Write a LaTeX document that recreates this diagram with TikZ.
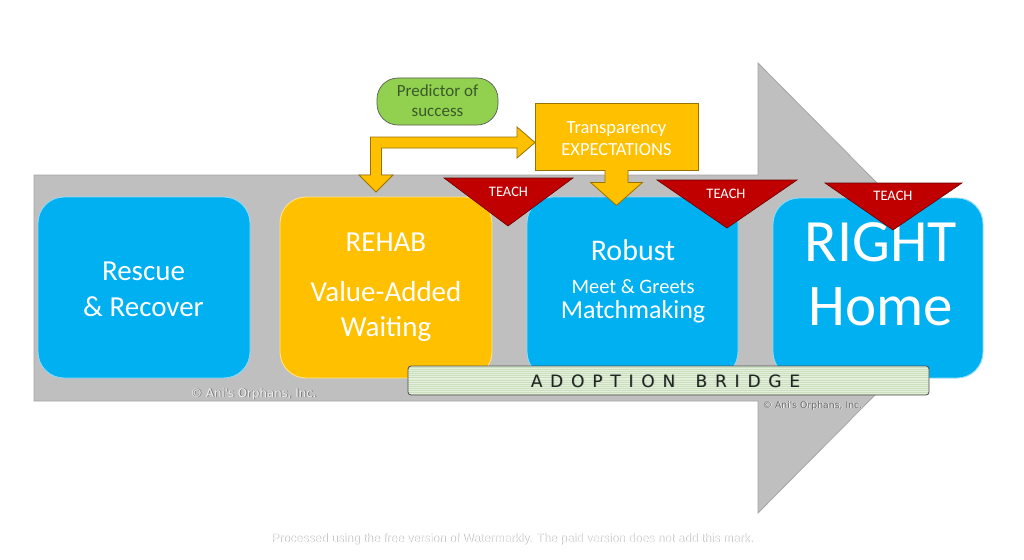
\documentclass[tikz,border=0pt]{standalone}
\usepackage{fontspec}
\setmainfont{Carlito}
\newfontfamily\vfont{DejaVu Sans}
\newfontfamily\bridgefont[LetterSpace=46]{DejaVu Sans}
\newfontfamily\wmfont{Liberation Sans}
\usetikzlibrary{calc}
\definecolor{boxblue}{HTML}{00B0F0}
\definecolor{boxyel}{HTML}{FFC000}
\definecolor{arrgray}{HTML}{BFBFBF}
\definecolor{arredge}{HTML}{A5A5A5}
\definecolor{teachred}{HTML}{C00000}
\definecolor{predgreen}{HTML}{92D050}
\definecolor{predtext}{HTML}{3A5A2A}
\definecolor{bridgegreen}{HTML}{E4F0DC}
\definecolor{bridgeline}{HTML}{C9DFBD}
\definecolor{bridgetext}{HTML}{1C261C}
\tikzset{
  bigarrow/.style={fill=arrgray, draw=arredge, line width=0.8pt},
  stage/.style={rectangle, rounded corners=26pt, inner sep=0pt, line width=0.9pt},
  lbl/.style={text=white, inner sep=0pt, anchor=base},
  teachtri/.style={fill=teachred, draw=teachred!55!black, line width=0.6pt},
  teachlbl/.style={text=white, inner sep=0pt, anchor=base, font=\fontsize{14.5}{14.5}\selectfont},
  yarrow/.style={fill=boxyel, draw=boxyel!60!black, line width=0.8pt},
  copy/.style={inner sep=0pt, anchor=base},
}
\begin{document}
\begin{tikzpicture}[x=1pt,y=-1pt]
\useasboundingbox (0,0) rectangle (1024,559);
\fill[white] (0,0) rectangle (1024,559);

% big gray arrow
\draw[bigarrow] (34,175) -- (758,175) -- (758,63) -- (981,288) -- (758,513) -- (758,401) -- (34,401) -- cycle;

% stage boxes
\node[stage, fill=boxblue, draw=boxblue!45!white, minimum width=212pt, minimum height=181pt] (rescue) at (144,287.5) {};
\node[stage, fill=boxyel, draw=boxyel!45!white, minimum width=212pt, minimum height=181pt] (rehab) at (386,287.5) {};
\node[stage, fill=boxblue, draw=boxblue!45!white, minimum width=211pt, minimum height=181pt] (robust) at (632.5,287.5) {};
\node[stage, fill=boxblue, draw=boxblue!45!white, minimum width=210pt, minimum height=180pt] (right) at (878,288) {};

% stage texts
\node[lbl, font=\fontsize{29}{29}\selectfont] (rescueA) at (143.5,280) {Rescue};
\node[lbl, font=\fontsize{29}{29}\selectfont] (rescueB) at (143.5,316.5) {\& Recover};

\node[lbl, font=\fontsize{29}{29}\selectfont] (rehabA) at (386,251.5) {REHAB};
\node[lbl, font=\fontsize{29}{29}\selectfont] (rehabB) at (386,301.5) {Value-Added};
\node[lbl, font=\fontsize{29}{29}\selectfont] (rehabC) at (386,336.5) {Waiting};

\node[lbl, font=\fontsize{30}{30}\selectfont] (robustA) at (633,260.5) {Robust};
\node[lbl, font=\fontsize{20.5}{20.5}\selectfont] (robustB) at (633,293) {Meet \& Greets};
\node[lbl, font=\fontsize{26}{26}\selectfont] (robustC) at (633,318) {Matchmaking};

\node[lbl, font=\fontsize{60}{60}\selectfont] (rightA) at (881,261.5) {RIGHT};
\node[lbl, font=\fontsize{59}{59}\selectfont] (rightB) at (881,325) {Home};

% predictor of success
\node[rectangle, rounded corners=21pt, fill=predgreen, draw=black!65, line width=0.7pt,
      minimum width=121pt, minimum height=47pt] (pred) at (437.5,101.5) {};
\node[copy, text=predtext, font=\fontsize{17}{17}\selectfont] (predA) at (437.5,96.5) {Predictor of};
\node[copy, text=predtext, font=\fontsize{17}{17}\selectfont] (predB) at (437.5,116.5) {success};

% transparency box
\node[rectangle, fill=boxyel, draw=boxyel!60!black, line width=0.8pt,
      minimum width=163pt, minimum height=67pt, inner sep=0pt] (trans) at (616.5,136.5) {};
\node[lbl, font=\fontsize{18.5}{18.5}\selectfont] (transA) at (616.5,133) {Transparency};
\node[lbl, font=\fontsize{18.5}{18.5}\selectfont] (transB) at (616.5,155) {EXPECTATIONS};

% down arrow from transparency box to Robust
\draw[yarrow, shift={(trans.south)}] (-11.5,-0.4) -- (-11.5,12) -- (-26,12) -- (0,35) -- (26,12) -- (11.5,12) -- (11.5,-0.4);

% bent double-headed arrow (REHAB <-> Transparency)
\draw[yarrow] (376,192) -- (393,175) -- (381.5,175) -- (381.5,148) -- (517,148) -- (517,158)
  -- (535,142.5) -- (517,127) -- (517,137) -- (370.5,137) -- (370.5,175) -- (359,175) -- cycle;

% TEACH triangles
\draw[teachtri] (444,178) -- (573,178) -- (508,226) -- cycle;
\node[teachlbl] (teach1) at (508.5,196.5) {TEACH};
\draw[teachtri] (657,180) -- (797,180) -- (727,228) -- cycle;
\node[teachlbl] (teach2) at (726,198) {TEACH};
\draw[teachtri] (825,183) -- (962,183) -- (893,230) -- cycle;
\node[teachlbl] (teach3) at (893,200) {TEACH};

% adoption bridge
\node[rectangle, rounded corners=3pt, fill=bridgegreen, draw=black!70, line width=0.8pt,
      minimum width=521pt, minimum height=29pt, inner sep=0pt,
      path picture={
        \foreach \k in {0,...,13}
          \draw[bridgeline, line width=0.6pt]
            ($(path picture bounding box.north west)+(0,2.1*\k+1.2)$) -- ++(530,0);
      }] (bridge) at (668.5,380.5) {};
\node[copy, text=black!30, font=\bridgefont\fontsize{17}{17}\selectfont] (bridgeS) at (666.2,387.6) {ADOPTION\hspace{7pt} BRIDGE};
\node[copy, text=bridgetext, font=\bridgefont\fontsize{17}{17}\selectfont] (bridgeT) at (665.5,387) {ADOPTION\hspace{7pt} BRIDGE};

% copyright notes
\node[copy, text=black!55, font=\vfont\fontsize{11.8}{11.8}\selectfont] (copy1s) at (254.4,397.7) {© Ani's Orphans, Inc.};
\node[copy, text=white!94!black, font=\vfont\fontsize{11.8}{11.8}\selectfont] (copy1) at (253.5,397) {© Ani's Orphans, Inc.};
\node[copy, text=white, font=\vfont\fontsize{9.3}{9.3}\selectfont] (copy2s) at (813.3,408.6) {© Ani's Orphans, Inc.};
\node[copy, text=black!58, font=\vfont\fontsize{9.3}{9.3}\selectfont] (copy2) at (812.5,408) {© Ani's Orphans, Inc.};

% watermark
\node[copy, text=black!28, font=\wmfont\fontsize{12}{12}\selectfont] (wms) at (513,542.8) {Processed using the free version of Watermarkly. The paid version does not add this mark.};
\node[copy, text=white, font=\wmfont\fontsize{12}{12}\selectfont] (wm) at (512.3,542) {Processed using the free version of Watermarkly. The paid version does not add this mark.};
\end{tikzpicture}
\end{document}
